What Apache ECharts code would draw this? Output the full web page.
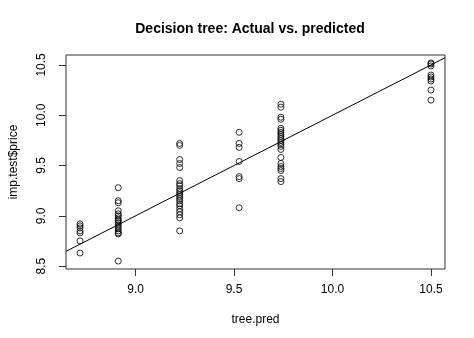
<!DOCTYPE html>
<html>
<head>
<meta charset="utf-8">
<script src="https://cdn.jsdelivr.net/npm/echarts@6/dist/echarts.min.js"></script>
<style>
  html, body { margin: 0; padding: 0; background: #ffffff; }
  #chart { width: 474px; height: 338px; }
</style>
</head>
<body>
<div id="chart"></div>
<script>
// Tree predictions (one value per leaf) and the observed test prices in each leaf
const leafPred = [8.718, 8.912, 9.224, 9.526, 9.738, 10.50];

const leaf1Price = [8.92, 8.90, 8.88, 8.85, 8.83, 8.75, 8.63];
const leaf2Price = [9.28, 9.15, 9.13, 9.05, 9.02, 9.00, 8.98, 8.96, 8.95, 8.93,
                    8.91, 8.89, 8.87, 8.85, 8.83, 8.82, 8.55];
const leaf3Price = [9.72, 9.70, 9.56, 9.52, 9.48, 9.35, 9.32, 9.30, 9.27, 9.25,
                    9.23, 9.21, 9.19, 9.17, 9.15, 9.12, 9.10, 9.07, 9.04, 9.01,
                    8.98, 8.85];
const leaf4Price = [9.83, 9.72, 9.68, 9.54, 9.39, 9.37, 9.08];
const leaf5Price = [10.11, 10.08, 9.98, 9.96, 9.87, 9.85, 9.83, 9.81, 9.79, 9.77,
                    9.75, 9.73, 9.71, 9.69, 9.66, 9.58, 9.52, 9.49, 9.47, 9.45,
                    9.37, 9.34];
const leaf6Price = [10.52, 10.51, 10.49, 10.40, 10.38, 10.36, 10.34, 10.25, 10.15];

// Tick labels
const xTicks = [9.0, 9.5, 10.0, 10.5];
const yTicks = [8.5, 9.0, 9.5, 10.0, 10.5];

// Reference line y = a + b x
const lineIntercept = 0;
const lineSlope = 1;

const leafPrices = [leaf1Price, leaf2Price, leaf3Price, leaf4Price, leaf5Price, leaf6Price];
const points = [];
leafPrices.forEach((arr, i) => arr.forEach(v => points.push([leafPred[i], v])));

// Axis limits padded by 4% of the data range on each side
function padded(values) {
  const lo = Math.min(...values), hi = Math.max(...values);
  const d = (hi - lo) * 0.04;
  return [lo - d, hi + d];
}
const [xMin, xMax] = padded(points.map(p => p[0]));
const [yMin, yMax] = padded(points.map(p => p[1]));

const lineData = [
  [xMin, lineIntercept + lineSlope * xMin],
  [xMax, lineIntercept + lineSlope * xMax]
];

const fontFamily = '"Liberation Sans", Arial, sans-serif';

const chart = echarts.init(document.getElementById('chart'), null, { renderer: 'canvas' });
chart.setOption({
  animation: false,
  backgroundColor: '#ffffff',
  title: {
    text: 'Decision tree: Actual vs. predicted',
    left: 250,
    textAlign: 'center',
    top: 22,
    padding: 0,
    textStyle: { fontFamily, fontSize: 14, fontWeight: 'bold', color: '#000' }
  },
  grid: {
    left: 56, right: 29, top: 55, bottom: 69,
    show: true, borderColor: '#333', borderWidth: 1, backgroundColor: 'transparent'
  },
  xAxis: {
    type: 'value',
    min: xMin, max: xMax,
    name: 'tree.pred',
    nameLocation: 'middle',
    nameGap: 45,
    nameTextStyle: { fontFamily, fontSize: 12, color: '#000' },
    splitLine: { show: false },
    axisLine: { show: false },
    axisTick: { show: true, customValues: xTicks, length: 7, inside: false, lineStyle: { color: '#333' } },
    axisLabel: {
      customValues: xTicks, margin: 15, fontFamily, fontSize: 12, color: '#000',
      formatter: v => v.toFixed(1)
    }
  },
  yAxis: {
    type: 'value',
    min: yMin, max: yMax,
    name: 'imp.test$price',
    nameLocation: 'middle',
    nameGap: 46,
    nameRotate: 90,
    nameTextStyle: { fontFamily, fontSize: 12, color: '#000' },
    splitLine: { show: false },
    axisLine: { show: false },
    axisTick: { show: true, customValues: yTicks, length: 7, inside: false, lineStyle: { color: '#333' } },
    axisLabel: {
      customValues: yTicks, margin: 18, rotate: 90, fontFamily, fontSize: 12, color: '#000',
      formatter: v => v.toFixed(1)
    }
  },
  series: [
    {
      type: 'scatter',
      data: points,
      symbol: 'circle',
      symbolSize: 6,
      itemStyle: { color: 'transparent', borderColor: '#000', borderWidth: 1 },
      silent: true
    },
    {
      type: 'line',
      data: lineData,
      showSymbol: false,
      clip: true,
      lineStyle: { color: '#000', width: 1 },
      silent: true
    }
  ]
});
</script>
</body>
</html>
